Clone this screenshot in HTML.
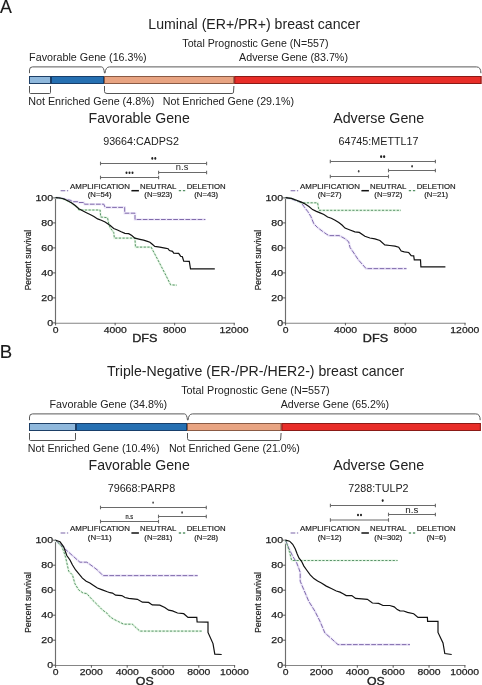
<!DOCTYPE html>
<html><head><meta charset="utf-8"><style>
html,body{margin:0;padding:0;background:#fff;}
body{width:482px;height:685px;overflow:hidden;}
svg{display:block;will-change:transform;font-family:"Liberation Sans",sans-serif;}
</style></head><body>
<svg width="482" height="685" viewBox="0 0 482 685">
<rect width="482" height="685" fill="#fff"/>
<text x="148.34" y="28.60" font-size="14.2" textLength="211.79" lengthAdjust="spacingAndGlyphs" fill="#222">Luminal (ER+/PR+) breast cancer</text>
<text x="182.36" y="47.30" font-size="10.6" textLength="146.09" lengthAdjust="spacingAndGlyphs" fill="#222">Total Prognostic Gene (N=557)</text>
<text x="29.12" y="60.60" font-size="10.6" textLength="117.55" lengthAdjust="spacingAndGlyphs" fill="#222">Favorable Gene (16.3%)</text>
<text x="239.08" y="60.90" font-size="10.6" textLength="108.88" lengthAdjust="spacingAndGlyphs" fill="#222">Adverse Gene (83.7%)</text>
<rect x="29" y="76" width="22" height="8" fill="#8fb8dc" stroke="none" stroke-width="0"/>
<rect x="51" y="76" width="53" height="8" fill="#2670b2" stroke="none" stroke-width="0"/>
<rect x="104" y="76" width="130.3" height="8" fill="#e8a482" stroke="none" stroke-width="0"/>
<rect x="234.3" y="76" width="247.2" height="8" fill="#e82d28" stroke="none" stroke-width="0"/>
<rect x="29.5" y="76.5" width="21" height="7" fill="none" stroke="#1d3f66" stroke-width="1"/>
<rect x="51.5" y="76.5" width="52" height="7" fill="none" stroke="#173e6a" stroke-width="1"/>
<rect x="104.5" y="76.5" width="129.3" height="7" fill="none" stroke="#8a5a44" stroke-width="1"/>
<rect x="234.8" y="76.5" width="246.2" height="7" fill="none" stroke="#8a1a16" stroke-width="1"/>
<path d="M29.5,73.2 L29.5,69.9 Q29.5,66.9 32.5,66.9 L101.5,66.9 Q103.8,66.9 104.5,73.2" stroke="#5a5a5a" stroke-width="1" fill="none"/>
<path d="M105.0,73.2 Q105.6,66.9 109.5,66.9 L476.5,66.9 Q480.9,66.9 480.9,73.2" stroke="#5a5a5a" stroke-width="1" fill="none"/>
<path d="M29.5,86 L29.5,92.5 Q29.5,93.5 30.5,93.5 L49.5,93.5 Q50.5,93.5 50.5,92.5 L50.5,86" stroke="#555" stroke-width="1" fill="none"/>
<path d="M104.5,86 L104.5,91.5 Q104.5,93.5 107,93.5 L232.3,93.5 Q233.3,93.5 233.5,92.0 L233.9,86" stroke="#555" stroke-width="1" fill="none"/>
<text x="28.22" y="104.80" font-size="10.6" textLength="126.05" lengthAdjust="spacingAndGlyphs" fill="#222">Not Enriched Gene (4.8%)</text>
<text x="162.72" y="104.80" font-size="10.6" textLength="131.34" lengthAdjust="spacingAndGlyphs" fill="#222">Not Enriched Gene (29.1%)</text>
<text x="106.98" y="375.60" font-size="14.2" textLength="297.15" lengthAdjust="spacingAndGlyphs" fill="#222">Triple-Negative (ER-/PR-/HER2-) breast cancer</text>
<text x="181.16" y="394.30" font-size="10.6" textLength="148.50" lengthAdjust="spacingAndGlyphs" fill="#222">Total Prognostic Gene (N=557)</text>
<text x="49.52" y="407.60" font-size="10.6" textLength="117.55" lengthAdjust="spacingAndGlyphs" fill="#222">Favorable Gene (34.8%)</text>
<text x="280.68" y="407.90" font-size="10.6" textLength="108.28" lengthAdjust="spacingAndGlyphs" fill="#222">Adverse Gene (65.2%)</text>
<rect x="29" y="423" width="47" height="8" fill="#8fb8dc" stroke="none" stroke-width="0"/>
<rect x="76" y="423" width="111" height="8" fill="#2670b2" stroke="none" stroke-width="0"/>
<rect x="187" y="423" width="94.5" height="8" fill="#e8a482" stroke="none" stroke-width="0"/>
<rect x="281.5" y="423" width="199.3" height="8" fill="#e82d28" stroke="none" stroke-width="0"/>
<rect x="29.5" y="423.5" width="46" height="7" fill="none" stroke="#1d3f66" stroke-width="1"/>
<rect x="76.5" y="423.5" width="110" height="7" fill="none" stroke="#173e6a" stroke-width="1"/>
<rect x="187.5" y="423.5" width="93.5" height="7" fill="none" stroke="#8a5a44" stroke-width="1"/>
<rect x="282.0" y="423.5" width="198.3" height="7" fill="none" stroke="#8a1a16" stroke-width="1"/>
<path d="M29.5,420.2 L29.5,416.9 Q29.5,413.9 32.5,413.9 L184.5,413.9 Q186.8,413.9 187.5,420.2" stroke="#5a5a5a" stroke-width="1" fill="none"/>
<path d="M188.0,420.2 Q188.6,413.9 192.5,413.9 L475.8,413.9 Q480.2,413.9 480.2,420.2" stroke="#5a5a5a" stroke-width="1" fill="none"/>
<path d="M29.5,433 L29.5,439.5 Q29.5,440.5 30.5,440.5 L74.5,440.5 Q75.5,440.5 75.5,439.5 L75.5,433" stroke="#555" stroke-width="1" fill="none"/>
<path d="M187.5,433 L187.5,438.5 Q187.5,440.5 190,440.5 L279.5,440.5 Q280.5,440.5 280.7,439.0 L281.1,433" stroke="#555" stroke-width="1" fill="none"/>
<text x="27.82" y="451.80" font-size="10.6" textLength="131.64" lengthAdjust="spacingAndGlyphs" fill="#222">Not Enriched Gene (10.4%)</text>
<text x="168.93" y="451.80" font-size="10.6" textLength="130.83" lengthAdjust="spacingAndGlyphs" fill="#222">Not Enriched Gene (21.0%)</text>
<text x="-0.03" y="12.60" font-size="18" textLength="11.87" lengthAdjust="spacingAndGlyphs" fill="#1a1a1a" stroke="#1a1a1a" stroke-width="0.12">A</text>
<text x="-0.23" y="357.60" font-size="17.6" textLength="12.41" lengthAdjust="spacingAndGlyphs" fill="#1a1a1a" stroke="#1a1a1a" stroke-width="0.12">B</text>
<text x="88.54" y="123.10" font-size="14.2" textLength="101.29" lengthAdjust="spacingAndGlyphs" fill="#222">Favorable Gene</text>
<text x="103.20" y="144.90" font-size="10.6" textLength="75.74" lengthAdjust="spacingAndGlyphs" fill="#222">93664:CADPS2</text>
<line x1="55.5" y1="197.39999999999998" x2="55.5" y2="323.7" stroke="#6e6e6e" stroke-width="1.15"/>
<line x1="55.1" y1="323.2" x2="234.7" y2="323.2" stroke="#858585" stroke-width="1.1"/>
<line x1="53.1" y1="322.9" x2="55.6" y2="322.9" stroke="#555" stroke-width="1"/>
<text x="47.22" y="325.70" font-size="9.9" textLength="5.89" lengthAdjust="spacingAndGlyphs" fill="#222" stroke="#222" stroke-width="0.25">0</text>
<line x1="53.1" y1="297.9" x2="55.6" y2="297.9" stroke="#555" stroke-width="1"/>
<text x="41.33" y="300.70" font-size="9.9" textLength="11.78" lengthAdjust="spacingAndGlyphs" fill="#222" stroke="#222" stroke-width="0.25">20</text>
<line x1="53.1" y1="272.9" x2="55.6" y2="272.9" stroke="#555" stroke-width="1"/>
<text x="41.33" y="275.70" font-size="9.9" textLength="11.78" lengthAdjust="spacingAndGlyphs" fill="#222" stroke="#222" stroke-width="0.25">40</text>
<line x1="53.1" y1="247.89999999999998" x2="55.6" y2="247.89999999999998" stroke="#555" stroke-width="1"/>
<text x="41.33" y="250.70" font-size="9.9" textLength="11.78" lengthAdjust="spacingAndGlyphs" fill="#222" stroke="#222" stroke-width="0.25">60</text>
<line x1="53.1" y1="222.89999999999998" x2="55.6" y2="222.89999999999998" stroke="#555" stroke-width="1"/>
<text x="41.33" y="225.70" font-size="9.9" textLength="11.78" lengthAdjust="spacingAndGlyphs" fill="#222" stroke="#222" stroke-width="0.25">80</text>
<line x1="53.1" y1="197.89999999999998" x2="55.6" y2="197.89999999999998" stroke="#555" stroke-width="1"/>
<text x="35.44" y="200.70" font-size="9.9" textLength="17.67" lengthAdjust="spacingAndGlyphs" fill="#222" stroke="#222" stroke-width="0.25">100</text>
<line x1="55.6" y1="322.9" x2="55.6" y2="325.4" stroke="#555" stroke-width="1"/>
<text x="52.71" y="332.80" font-size="9.9" textLength="5.78" lengthAdjust="spacingAndGlyphs" fill="#222" stroke="#222" stroke-width="0.25">0</text>
<line x1="115.13333333333333" y1="322.9" x2="115.13333333333333" y2="325.4" stroke="#555" stroke-width="1"/>
<text x="103.65" y="332.80" font-size="9.9" textLength="23.12" lengthAdjust="spacingAndGlyphs" fill="#222" stroke="#222" stroke-width="0.25">4000</text>
<line x1="174.66666666666666" y1="322.9" x2="174.66666666666666" y2="325.4" stroke="#555" stroke-width="1"/>
<text x="163.08" y="332.80" font-size="9.9" textLength="23.12" lengthAdjust="spacingAndGlyphs" fill="#222" stroke="#222" stroke-width="0.25">8000</text>
<line x1="234.2" y1="322.9" x2="234.2" y2="325.4" stroke="#555" stroke-width="1"/>
<text x="219.55" y="332.80" font-size="9.9" textLength="28.91" lengthAdjust="spacingAndGlyphs" fill="#222" stroke="#222" stroke-width="0.25">12000</text>
<text x="132.17" y="342.20" font-size="11" textLength="25.21" lengthAdjust="spacingAndGlyphs" fill="#222" stroke="#222" stroke-width="0.35">DFS</text>
<text transform="translate(31.200000000000003,260.09999999999997) rotate(-90)" text-anchor="middle" font-size="9.9" fill="#222" stroke="#222" stroke-width="0.2" textLength="60.5" lengthAdjust="spacingAndGlyphs">Percent survival</text>
<path d="M55.6,197.6 L62.0,198.2 L66.5,199.6 L70.2,200.2 L72.7,201.7 L78.3,201.7 L78.9,202.5 L83.9,202.5 L84.5,204.2 L103.8,204.2 L105.1,207.4 L124.7,207.4 L124.7,213.2 L135.0,213.2 L135.0,219.5 L205.4,219.5" stroke="#efeafa" stroke-width="2.6" fill="none"/>
<path d="M55.6,197.6 L60.2,198.2 L64.0,199.2 L67.7,201.0 L71.4,203.0 L75.2,205.8 L77.7,207.7 L78.9,210.0 L100.1,210.0 L100.7,217.0 L107.5,217.7 L108.8,223.9 L110.0,227.5 L113.7,232.5 L114.4,238.1 L134.9,238.1 L135.5,247.1 L151.1,247.1 L157.9,259.9 L165.0,273.6 L170.6,284.8 L176.8,285.2" stroke="#e4f6e4" stroke-width="2.2" fill="none"/>
<path d="M55.6,197.6 L62.0,198.2 L66.5,199.6 L70.2,200.2 L72.7,201.7 L78.3,201.7 L78.9,202.5 L83.9,202.5 L84.5,204.2 L103.8,204.2 L105.1,207.4 L124.7,207.4 L124.7,213.2 L135.0,213.2 L135.0,219.5 L205.4,219.5" stroke="#7a64a8" stroke-width="0.95" fill="none" stroke-dasharray="4.7,1.4"/>
<path d="M55.6,197.6 L60.2,198.2 L64.0,199.2 L67.7,201.0 L71.4,203.0 L75.2,205.8 L77.7,207.7 L78.9,210.0 L100.1,210.0 L100.7,217.0 L107.5,217.7 L108.8,223.9 L110.0,227.5 L113.7,232.5 L114.4,238.1 L134.9,238.1 L135.5,247.1 L151.1,247.1 L157.9,259.9 L165.0,273.6 L170.6,284.8 L176.8,285.2" stroke="#5a946a" stroke-width="1.0" fill="none" stroke-dasharray="2.2,1.5"/>
<path d="M55.6,197.6 L60.2,198.0 L64.0,199.0 L67.7,200.8 L71.4,202.7 L75.2,205.5 L78.9,208.7 L82.6,210.8 L86.4,212.7 L90.1,214.5 L93.9,216.4 L97.6,218.9 L101.3,220.2 L105.1,222.0 L108.8,224.5 L110.0,225.2 L113.7,228.5 L117.5,230.0 L121.2,231.8 L124.9,233.4 L128.7,233.7 L131.8,235.6 L134.9,238.1 L139.9,239.3 L143.6,240.2 L147.4,241.4 L149.9,242.2 L152.3,244.3 L154.8,246.4 L159.8,247.1 L165.0,248.1 L168.1,248.7 L169.4,250.6 L172.5,251.4 L173.7,253.1 L178.7,253.4 L180.6,256.2 L182.4,256.8 L183.7,261.2 L189.3,261.4 L190.5,268.9 L214.8,268.9" stroke="#111" stroke-width="1.2" fill="none"/>
<text x="70.11" y="188.60" font-size="7.8" textLength="59.81" lengthAdjust="spacingAndGlyphs" fill="#222" stroke="#222" stroke-width="0.18">AMPLIFICATION</text>
<text x="87.79" y="197.00" font-size="7.8" textLength="23.82" lengthAdjust="spacingAndGlyphs" fill="#222" stroke="#222" stroke-width="0.18">(N=54)</text>
<text x="140.01" y="188.60" font-size="7.8" textLength="36.41" lengthAdjust="spacingAndGlyphs" fill="#222" stroke="#222" stroke-width="0.18">NEUTRAL</text>
<text x="144.34" y="197.00" font-size="7.8" textLength="28.11" lengthAdjust="spacingAndGlyphs" fill="#222" stroke="#222" stroke-width="0.18">(N=923)</text>
<text x="186.69" y="188.60" font-size="7.8" textLength="39.01" lengthAdjust="spacingAndGlyphs" fill="#222" stroke="#222" stroke-width="0.18">DELETION</text>
<text x="194.29" y="197.00" font-size="7.8" textLength="23.82" lengthAdjust="spacingAndGlyphs" fill="#222" stroke="#222" stroke-width="0.18">(N=43)</text>
<line x1="60.6" y1="190.7" x2="68.2" y2="190.7" stroke="#7a64a8" stroke-width="1.1" stroke-dasharray="4.7,1.6,1.3,9"/>
<line x1="131.4" y1="190.7" x2="138.9" y2="190.7" stroke="#111" stroke-width="1.5"/>
<line x1="178.8" y1="190.7" x2="185.2" y2="190.7" stroke="#5a946a" stroke-width="1.3" stroke-dasharray="2.3,1.8"/>
<line x1="100.5" y1="163.5" x2="206.6" y2="163.5" stroke="#6a6a6a" stroke-width="1.0"/>
<line x1="100.5" y1="161.7" x2="100.5" y2="165.3" stroke="#6a6a6a" stroke-width="1.1"/>
<line x1="206.6" y1="161.7" x2="206.6" y2="165.3" stroke="#6a6a6a" stroke-width="1.1"/>
<line x1="158.6" y1="172.5" x2="206.6" y2="172.5" stroke="#6a6a6a" stroke-width="1.0"/>
<line x1="158.6" y1="170.7" x2="158.6" y2="174.3" stroke="#6a6a6a" stroke-width="1.1"/>
<line x1="206.6" y1="170.7" x2="206.6" y2="174.3" stroke="#6a6a6a" stroke-width="1.1"/>
<line x1="100.5" y1="177.5" x2="158.6" y2="177.5" stroke="#6a6a6a" stroke-width="1.0"/>
<line x1="100.5" y1="175.7" x2="100.5" y2="179.3" stroke="#6a6a6a" stroke-width="1.1"/>
<line x1="158.6" y1="175.7" x2="158.6" y2="179.3" stroke="#6a6a6a" stroke-width="1.1"/>
<ellipse cx="152.30" cy="158.40" rx="1.0" ry="1.3" fill="#222"/>
<ellipse cx="155.30" cy="158.40" rx="1.0" ry="1.3" fill="#222"/>
<text x="175.88" y="170.40" font-size="8.2" textLength="12.46" lengthAdjust="spacingAndGlyphs" fill="#222">n.s</text>
<ellipse cx="126.50" cy="172.80" rx="1.0" ry="1.3" fill="#222"/>
<ellipse cx="129.50" cy="172.80" rx="1.0" ry="1.3" fill="#222"/>
<ellipse cx="132.50" cy="172.80" rx="1.0" ry="1.3" fill="#222"/>
<text x="333.17" y="123.10" font-size="14.2" textLength="91.06" lengthAdjust="spacingAndGlyphs" fill="#222">Adverse Gene</text>
<text x="338.45" y="144.90" font-size="10.6" textLength="80.09" lengthAdjust="spacingAndGlyphs" fill="#222">64745:METTL17</text>
<line x1="285.5" y1="197.39999999999998" x2="285.5" y2="323.7" stroke="#6e6e6e" stroke-width="1.15"/>
<line x1="285.1" y1="323.2" x2="465.5" y2="323.2" stroke="#858585" stroke-width="1.1"/>
<line x1="283.1" y1="322.9" x2="285.6" y2="322.9" stroke="#555" stroke-width="1"/>
<text x="277.22" y="325.70" font-size="9.9" textLength="5.89" lengthAdjust="spacingAndGlyphs" fill="#222" stroke="#222" stroke-width="0.25">0</text>
<line x1="283.1" y1="297.9" x2="285.6" y2="297.9" stroke="#555" stroke-width="1"/>
<text x="271.33" y="300.70" font-size="9.9" textLength="11.78" lengthAdjust="spacingAndGlyphs" fill="#222" stroke="#222" stroke-width="0.25">20</text>
<line x1="283.1" y1="272.9" x2="285.6" y2="272.9" stroke="#555" stroke-width="1"/>
<text x="271.33" y="275.70" font-size="9.9" textLength="11.78" lengthAdjust="spacingAndGlyphs" fill="#222" stroke="#222" stroke-width="0.25">40</text>
<line x1="283.1" y1="247.89999999999998" x2="285.6" y2="247.89999999999998" stroke="#555" stroke-width="1"/>
<text x="271.33" y="250.70" font-size="9.9" textLength="11.78" lengthAdjust="spacingAndGlyphs" fill="#222" stroke="#222" stroke-width="0.25">60</text>
<line x1="283.1" y1="222.89999999999998" x2="285.6" y2="222.89999999999998" stroke="#555" stroke-width="1"/>
<text x="271.33" y="225.70" font-size="9.9" textLength="11.78" lengthAdjust="spacingAndGlyphs" fill="#222" stroke="#222" stroke-width="0.25">80</text>
<line x1="283.1" y1="197.89999999999998" x2="285.6" y2="197.89999999999998" stroke="#555" stroke-width="1"/>
<text x="265.44" y="200.70" font-size="9.9" textLength="17.67" lengthAdjust="spacingAndGlyphs" fill="#222" stroke="#222" stroke-width="0.25">100</text>
<line x1="285.6" y1="322.9" x2="285.6" y2="325.4" stroke="#555" stroke-width="1"/>
<text x="282.71" y="332.80" font-size="9.9" textLength="5.78" lengthAdjust="spacingAndGlyphs" fill="#222" stroke="#222" stroke-width="0.25">0</text>
<line x1="345.40000000000003" y1="322.9" x2="345.40000000000003" y2="325.4" stroke="#555" stroke-width="1"/>
<text x="333.92" y="332.80" font-size="9.9" textLength="23.12" lengthAdjust="spacingAndGlyphs" fill="#222" stroke="#222" stroke-width="0.25">4000</text>
<line x1="405.20000000000005" y1="322.9" x2="405.20000000000005" y2="325.4" stroke="#555" stroke-width="1"/>
<text x="393.61" y="332.80" font-size="9.9" textLength="23.12" lengthAdjust="spacingAndGlyphs" fill="#222" stroke="#222" stroke-width="0.25">8000</text>
<line x1="465.0" y1="322.9" x2="465.0" y2="325.4" stroke="#555" stroke-width="1"/>
<text x="450.35" y="332.80" font-size="9.9" textLength="28.91" lengthAdjust="spacingAndGlyphs" fill="#222" stroke="#222" stroke-width="0.25">12000</text>
<text x="362.87" y="342.20" font-size="11" textLength="25.21" lengthAdjust="spacingAndGlyphs" fill="#222" stroke="#222" stroke-width="0.35">DFS</text>
<text transform="translate(261.20000000000005,260.09999999999997) rotate(-90)" text-anchor="middle" font-size="9.9" fill="#222" stroke="#222" stroke-width="0.2" textLength="60.5" lengthAdjust="spacingAndGlyphs">Percent survival</text>
<path d="M285.6,197.6 L291.5,199.0 L296.5,200.8 L301.4,202.7 L303.9,206.5 L307.7,211.4 L310.8,216.4 L313.9,223.9 L317.6,227.6 L322.6,231.4 L326.3,234.0 L329.0,235.6 L339.2,235.6 L345.0,238.7 L348.7,241.8 L350.0,247.4 L354.9,254.6 L358.1,259.5 L366.1,268.6 L406.5,268.6" stroke="#efeafa" stroke-width="2.6" fill="none"/>
<path d="M285.6,197.6 L291.5,198.6 L296.5,200.4 L301.4,202.8 L317.6,202.8 L318.9,210.3 L401.0,210.3" stroke="#e4f6e4" stroke-width="2.2" fill="none"/>
<path d="M285.6,197.6 L291.5,199.0 L296.5,200.8 L301.4,202.7 L303.9,206.5 L307.7,211.4 L310.8,216.4 L313.9,223.9 L317.6,227.6 L322.6,231.4 L326.3,234.0 L329.0,235.6 L339.2,235.6 L345.0,238.7 L348.7,241.8 L350.0,247.4 L354.9,254.6 L358.1,259.5 L366.1,268.6 L406.5,268.6" stroke="#7a64a8" stroke-width="0.95" fill="none" stroke-dasharray="4.7,1.4"/>
<path d="M285.6,197.6 L291.5,198.6 L296.5,200.4 L301.4,202.8 L317.6,202.8 L318.9,210.3 L401.0,210.3" stroke="#5a946a" stroke-width="1.0" fill="none" stroke-dasharray="2.2,1.5"/>
<path d="M285.6,197.6 L291.5,198.4 L296.5,200.2 L301.4,202.1 L305.2,204.0 L308.9,206.5 L312.6,209.6 L316.4,211.4 L320.1,212.9 L323.9,214.5 L327.6,217.0 L331.3,218.3 L335.1,220.2 L338.8,222.6 L342.0,225.0 L345.0,228.1 L350.0,230.0 L354.9,231.8 L359.3,232.4 L364.9,236.2 L369.9,238.0 L374.9,238.9 L379.9,240.5 L384.8,244.9 L389.8,245.5 L395.0,246.2 L398.7,247.2 L401.2,251.0 L404.3,251.8 L408.7,252.5 L411.2,255.6 L413.7,255.9 L414.3,259.9 L420.5,259.9 L420.9,266.8 L445.4,266.8" stroke="#111" stroke-width="1.2" fill="none"/>
<text x="300.11" y="188.60" font-size="7.8" textLength="59.81" lengthAdjust="spacingAndGlyphs" fill="#222" stroke="#222" stroke-width="0.18">AMPLIFICATION</text>
<text x="317.79" y="197.00" font-size="7.8" textLength="23.82" lengthAdjust="spacingAndGlyphs" fill="#222" stroke="#222" stroke-width="0.18">(N=27)</text>
<text x="370.01" y="188.60" font-size="7.8" textLength="36.41" lengthAdjust="spacingAndGlyphs" fill="#222" stroke="#222" stroke-width="0.18">NEUTRAL</text>
<text x="374.34" y="197.00" font-size="7.8" textLength="28.11" lengthAdjust="spacingAndGlyphs" fill="#222" stroke="#222" stroke-width="0.18">(N=972)</text>
<text x="416.69" y="188.60" font-size="7.8" textLength="39.01" lengthAdjust="spacingAndGlyphs" fill="#222" stroke="#222" stroke-width="0.18">DELETION</text>
<text x="424.29" y="197.00" font-size="7.8" textLength="23.82" lengthAdjust="spacingAndGlyphs" fill="#222" stroke="#222" stroke-width="0.18">(N=21)</text>
<line x1="290.6" y1="190.7" x2="298.20000000000005" y2="190.7" stroke="#7a64a8" stroke-width="1.1" stroke-dasharray="4.7,1.6,1.3,9"/>
<line x1="361.40000000000003" y1="190.7" x2="368.90000000000003" y2="190.7" stroke="#111" stroke-width="1.5"/>
<line x1="408.8" y1="190.7" x2="415.20000000000005" y2="190.7" stroke="#5a946a" stroke-width="1.3" stroke-dasharray="2.3,1.8"/>
<line x1="330.3" y1="161.5" x2="435.4" y2="161.5" stroke="#6a6a6a" stroke-width="1.0"/>
<line x1="330.3" y1="159.7" x2="330.3" y2="163.3" stroke="#6a6a6a" stroke-width="1.1"/>
<line x1="435.4" y1="159.7" x2="435.4" y2="163.3" stroke="#6a6a6a" stroke-width="1.1"/>
<line x1="388.5" y1="170.5" x2="435.4" y2="170.5" stroke="#6a6a6a" stroke-width="1.0"/>
<line x1="388.5" y1="168.7" x2="388.5" y2="172.3" stroke="#6a6a6a" stroke-width="1.1"/>
<line x1="435.4" y1="168.7" x2="435.4" y2="172.3" stroke="#6a6a6a" stroke-width="1.1"/>
<line x1="330.3" y1="176.5" x2="388.5" y2="176.5" stroke="#6a6a6a" stroke-width="1.0"/>
<line x1="330.3" y1="174.7" x2="330.3" y2="178.3" stroke="#6a6a6a" stroke-width="1.1"/>
<line x1="388.5" y1="174.7" x2="388.5" y2="178.3" stroke="#6a6a6a" stroke-width="1.1"/>
<ellipse cx="381.15" cy="156.65" rx="1.1" ry="1.4" fill="#222"/>
<ellipse cx="384.15" cy="156.65" rx="1.1" ry="1.4" fill="#222"/>
<ellipse cx="412.10" cy="166.30" rx="0.85" ry="1.2" fill="#3a3a3a"/>
<ellipse cx="358.70" cy="171.30" rx="0.8" ry="1.2" fill="#444"/>
<text x="88.54" y="470.40" font-size="14.2" textLength="101.29" lengthAdjust="spacingAndGlyphs" fill="#222">Favorable Gene</text>
<text x="107.65" y="492.20" font-size="10.6" textLength="67.51" lengthAdjust="spacingAndGlyphs" fill="#222">79668:PARP8</text>
<line x1="55.5" y1="539.7" x2="55.5" y2="666.0" stroke="#6e6e6e" stroke-width="1.15"/>
<line x1="55.1" y1="665.5" x2="235.1" y2="665.5" stroke="#858585" stroke-width="1.1"/>
<line x1="53.1" y1="665.2" x2="55.6" y2="665.2" stroke="#555" stroke-width="1"/>
<text x="47.22" y="668.00" font-size="9.9" textLength="5.89" lengthAdjust="spacingAndGlyphs" fill="#222" stroke="#222" stroke-width="0.25">0</text>
<line x1="53.1" y1="640.2" x2="55.6" y2="640.2" stroke="#555" stroke-width="1"/>
<text x="41.33" y="643.00" font-size="9.9" textLength="11.78" lengthAdjust="spacingAndGlyphs" fill="#222" stroke="#222" stroke-width="0.25">20</text>
<line x1="53.1" y1="615.2" x2="55.6" y2="615.2" stroke="#555" stroke-width="1"/>
<text x="41.33" y="618.00" font-size="9.9" textLength="11.78" lengthAdjust="spacingAndGlyphs" fill="#222" stroke="#222" stroke-width="0.25">40</text>
<line x1="53.1" y1="590.2" x2="55.6" y2="590.2" stroke="#555" stroke-width="1"/>
<text x="41.33" y="593.00" font-size="9.9" textLength="11.78" lengthAdjust="spacingAndGlyphs" fill="#222" stroke="#222" stroke-width="0.25">60</text>
<line x1="53.1" y1="565.2" x2="55.6" y2="565.2" stroke="#555" stroke-width="1"/>
<text x="41.33" y="568.00" font-size="9.9" textLength="11.78" lengthAdjust="spacingAndGlyphs" fill="#222" stroke="#222" stroke-width="0.25">80</text>
<line x1="53.1" y1="540.2" x2="55.6" y2="540.2" stroke="#555" stroke-width="1"/>
<text x="35.44" y="543.00" font-size="9.9" textLength="17.67" lengthAdjust="spacingAndGlyphs" fill="#222" stroke="#222" stroke-width="0.25">100</text>
<line x1="55.6" y1="665.2" x2="55.6" y2="667.7" stroke="#555" stroke-width="1"/>
<text x="52.71" y="675.10" font-size="9.9" textLength="5.78" lengthAdjust="spacingAndGlyphs" fill="#222" stroke="#222" stroke-width="0.25">0</text>
<line x1="91.4" y1="665.2" x2="91.4" y2="667.7" stroke="#555" stroke-width="1"/>
<text x="79.78" y="675.10" font-size="9.9" textLength="23.12" lengthAdjust="spacingAndGlyphs" fill="#222" stroke="#222" stroke-width="0.25">2000</text>
<line x1="127.19999999999999" y1="665.2" x2="127.19999999999999" y2="667.7" stroke="#555" stroke-width="1"/>
<text x="115.72" y="675.10" font-size="9.9" textLength="23.12" lengthAdjust="spacingAndGlyphs" fill="#222" stroke="#222" stroke-width="0.25">4000</text>
<line x1="163.0" y1="665.2" x2="163.0" y2="667.7" stroke="#555" stroke-width="1"/>
<text x="151.38" y="675.10" font-size="9.9" textLength="23.12" lengthAdjust="spacingAndGlyphs" fill="#222" stroke="#222" stroke-width="0.25">6000</text>
<line x1="198.79999999999998" y1="665.2" x2="198.79999999999998" y2="667.7" stroke="#555" stroke-width="1"/>
<text x="187.21" y="675.10" font-size="9.9" textLength="23.12" lengthAdjust="spacingAndGlyphs" fill="#222" stroke="#222" stroke-width="0.25">8000</text>
<line x1="234.6" y1="665.2" x2="234.6" y2="667.7" stroke="#555" stroke-width="1"/>
<text x="219.95" y="675.10" font-size="9.9" textLength="28.91" lengthAdjust="spacingAndGlyphs" fill="#222" stroke="#222" stroke-width="0.25">10000</text>
<text x="135.81" y="684.80" font-size="11" textLength="17.85" lengthAdjust="spacingAndGlyphs" fill="#222" stroke="#222" stroke-width="0.35">OS</text>
<text transform="translate(31.200000000000003,602.4000000000001) rotate(-90)" text-anchor="middle" font-size="9.9" fill="#222" stroke="#222" stroke-width="0.2" textLength="60.5" lengthAdjust="spacingAndGlyphs">Percent survival</text>
<path d="M55.6,540.2 L62.5,546.8 L67.5,551.2 L72.4,555.5 L77.4,560.0 L79.9,562.2 L86.8,562.2 L92.4,566.2 L97.4,570.0 L103.0,575.6 L197.7,575.6" stroke="#efeafa" stroke-width="2.6" fill="none"/>
<path d="M55.6,540.2 L61.2,545.6 L63.7,551.2 L65.6,557.4 L66.2,560.0 L68.7,571.2 L72.5,575.0 L74.9,583.7 L78.7,589.9 L83.0,593.0 L86.8,593.6 L92.4,599.9 L97.4,604.8 L102.3,609.8 L107.3,613.5 L110.0,616.8 L113.7,619.2 L118.7,621.7 L123.7,624.2 L132.4,624.2 L134.9,626.7 L139.9,631.1 L201.7,631.1" stroke="#e4f6e4" stroke-width="2.2" fill="none"/>
<path d="M55.6,540.2 L62.5,546.8 L67.5,551.2 L72.4,555.5 L77.4,560.0 L79.9,562.2 L86.8,562.2 L92.4,566.2 L97.4,570.0 L103.0,575.6 L197.7,575.6" stroke="#7a64a8" stroke-width="0.95" fill="none" stroke-dasharray="4.7,1.4"/>
<path d="M55.6,540.2 L61.2,545.6 L63.7,551.2 L65.6,557.4 L66.2,560.0 L68.7,571.2 L72.5,575.0 L74.9,583.7 L78.7,589.9 L83.0,593.0 L86.8,593.6 L92.4,599.9 L97.4,604.8 L102.3,609.8 L107.3,613.5 L110.0,616.8 L113.7,619.2 L118.7,621.7 L123.7,624.2 L132.4,624.2 L134.9,626.7 L139.9,631.1 L201.7,631.1" stroke="#5a946a" stroke-width="1.0" fill="none" stroke-dasharray="2.2,1.5"/>
<path d="M55.6,540.2 L60.0,541.8 L63.7,546.8 L66.8,555.5 L70.0,560.0 L72.5,565.0 L75.6,570.0 L78.7,573.7 L82.4,578.1 L86.2,581.2 L89.9,583.0 L93.6,585.5 L97.4,588.0 L102.3,589.9 L107.3,591.8 L110.0,592.7 L112.5,593.1 L115.6,595.2 L121.8,595.6 L125.0,597.5 L128.7,598.3 L137.4,599.3 L142.4,602.2 L148.6,602.4 L152.3,604.9 L159.8,605.2 L164.8,607.4 L168.7,610.2 L172.5,610.9 L177.5,613.0 L183.7,613.7 L188.0,617.4 L196.8,617.4 L197.1,621.8 L208.0,622.1 L208.0,632.4 L213.0,643.6 L214.8,654.2 L221.7,654.5" stroke="#111" stroke-width="1.2" fill="none"/>
<text x="70.11" y="531.40" font-size="7.8" textLength="59.81" lengthAdjust="spacingAndGlyphs" fill="#222" stroke="#222" stroke-width="0.18">AMPLIFICATION</text>
<text x="87.79" y="539.80" font-size="7.8" textLength="23.82" lengthAdjust="spacingAndGlyphs" fill="#222" stroke="#222" stroke-width="0.18">(N=11)</text>
<text x="140.01" y="531.40" font-size="7.8" textLength="36.41" lengthAdjust="spacingAndGlyphs" fill="#222" stroke="#222" stroke-width="0.18">NEUTRAL</text>
<text x="144.34" y="539.80" font-size="7.8" textLength="28.11" lengthAdjust="spacingAndGlyphs" fill="#222" stroke="#222" stroke-width="0.18">(N=281)</text>
<text x="186.69" y="531.40" font-size="7.8" textLength="39.01" lengthAdjust="spacingAndGlyphs" fill="#222" stroke="#222" stroke-width="0.18">DELETION</text>
<text x="194.29" y="539.80" font-size="7.8" textLength="23.82" lengthAdjust="spacingAndGlyphs" fill="#222" stroke="#222" stroke-width="0.18">(N=28)</text>
<line x1="60.6" y1="533.0" x2="68.2" y2="533.0" stroke="#7a64a8" stroke-width="1.1" stroke-dasharray="4.7,1.6,1.3,9"/>
<line x1="131.4" y1="533.0" x2="138.9" y2="533.0" stroke="#111" stroke-width="1.5"/>
<line x1="178.8" y1="533.0" x2="185.2" y2="533.0" stroke="#5a946a" stroke-width="1.3" stroke-dasharray="2.3,1.8"/>
<line x1="100.5" y1="507.5" x2="206.3" y2="507.5" stroke="#6a6a6a" stroke-width="1.0"/>
<line x1="100.5" y1="505.7" x2="100.5" y2="509.3" stroke="#6a6a6a" stroke-width="1.1"/>
<line x1="206.3" y1="505.7" x2="206.3" y2="509.3" stroke="#6a6a6a" stroke-width="1.1"/>
<line x1="158.5" y1="516.5" x2="206.3" y2="516.5" stroke="#6a6a6a" stroke-width="1.0"/>
<line x1="158.5" y1="514.7" x2="158.5" y2="518.3" stroke="#6a6a6a" stroke-width="1.1"/>
<line x1="206.3" y1="514.7" x2="206.3" y2="518.3" stroke="#6a6a6a" stroke-width="1.1"/>
<line x1="100.5" y1="521.5" x2="158.5" y2="521.5" stroke="#6a6a6a" stroke-width="1.0"/>
<line x1="100.5" y1="519.7" x2="100.5" y2="523.3" stroke="#6a6a6a" stroke-width="1.1"/>
<line x1="158.5" y1="519.7" x2="158.5" y2="523.3" stroke="#6a6a6a" stroke-width="1.1"/>
<ellipse cx="153.10" cy="502.60" rx="0.8" ry="1.2" fill="#444"/>
<ellipse cx="182.10" cy="512.50" rx="0.8" ry="1.2" fill="#444"/>
<text x="125.62" y="518.80" font-size="7.6" textLength="7.58" lengthAdjust="spacingAndGlyphs" fill="#222" stroke="#222" stroke-width="0.2">n.s</text>
<text x="333.17" y="469.90" font-size="14.2" textLength="91.06" lengthAdjust="spacingAndGlyphs" fill="#222">Adverse Gene</text>
<text x="348.25" y="491.70" font-size="10.6" textLength="60.29" lengthAdjust="spacingAndGlyphs" fill="#222">7288:TULP2</text>
<line x1="285.5" y1="539.7" x2="285.5" y2="666.0" stroke="#6e6e6e" stroke-width="1.15"/>
<line x1="285.1" y1="665.5" x2="465.40000000000003" y2="665.5" stroke="#858585" stroke-width="1.1"/>
<line x1="283.1" y1="665.2" x2="285.6" y2="665.2" stroke="#555" stroke-width="1"/>
<text x="277.22" y="668.00" font-size="9.9" textLength="5.89" lengthAdjust="spacingAndGlyphs" fill="#222" stroke="#222" stroke-width="0.25">0</text>
<line x1="283.1" y1="640.2" x2="285.6" y2="640.2" stroke="#555" stroke-width="1"/>
<text x="271.33" y="643.00" font-size="9.9" textLength="11.78" lengthAdjust="spacingAndGlyphs" fill="#222" stroke="#222" stroke-width="0.25">20</text>
<line x1="283.1" y1="615.2" x2="285.6" y2="615.2" stroke="#555" stroke-width="1"/>
<text x="271.33" y="618.00" font-size="9.9" textLength="11.78" lengthAdjust="spacingAndGlyphs" fill="#222" stroke="#222" stroke-width="0.25">40</text>
<line x1="283.1" y1="590.2" x2="285.6" y2="590.2" stroke="#555" stroke-width="1"/>
<text x="271.33" y="593.00" font-size="9.9" textLength="11.78" lengthAdjust="spacingAndGlyphs" fill="#222" stroke="#222" stroke-width="0.25">60</text>
<line x1="283.1" y1="565.2" x2="285.6" y2="565.2" stroke="#555" stroke-width="1"/>
<text x="271.33" y="568.00" font-size="9.9" textLength="11.78" lengthAdjust="spacingAndGlyphs" fill="#222" stroke="#222" stroke-width="0.25">80</text>
<line x1="283.1" y1="540.2" x2="285.6" y2="540.2" stroke="#555" stroke-width="1"/>
<text x="265.44" y="543.00" font-size="9.9" textLength="17.67" lengthAdjust="spacingAndGlyphs" fill="#222" stroke="#222" stroke-width="0.25">100</text>
<line x1="285.6" y1="665.2" x2="285.6" y2="667.7" stroke="#555" stroke-width="1"/>
<text x="282.71" y="675.10" font-size="9.9" textLength="5.78" lengthAdjust="spacingAndGlyphs" fill="#222" stroke="#222" stroke-width="0.25">0</text>
<line x1="321.46000000000004" y1="665.2" x2="321.46000000000004" y2="667.7" stroke="#555" stroke-width="1"/>
<text x="309.84" y="675.10" font-size="9.9" textLength="23.12" lengthAdjust="spacingAndGlyphs" fill="#222" stroke="#222" stroke-width="0.25">2000</text>
<line x1="357.32000000000005" y1="665.2" x2="357.32000000000005" y2="667.7" stroke="#555" stroke-width="1"/>
<text x="345.84" y="675.10" font-size="9.9" textLength="23.12" lengthAdjust="spacingAndGlyphs" fill="#222" stroke="#222" stroke-width="0.25">4000</text>
<line x1="393.18000000000006" y1="665.2" x2="393.18000000000006" y2="667.7" stroke="#555" stroke-width="1"/>
<text x="381.56" y="675.10" font-size="9.9" textLength="23.12" lengthAdjust="spacingAndGlyphs" fill="#222" stroke="#222" stroke-width="0.25">6000</text>
<line x1="429.04" y1="665.2" x2="429.04" y2="667.7" stroke="#555" stroke-width="1"/>
<text x="417.45" y="675.10" font-size="9.9" textLength="23.12" lengthAdjust="spacingAndGlyphs" fill="#222" stroke="#222" stroke-width="0.25">8000</text>
<line x1="464.90000000000003" y1="665.2" x2="464.90000000000003" y2="667.7" stroke="#555" stroke-width="1"/>
<text x="450.25" y="675.10" font-size="9.9" textLength="28.91" lengthAdjust="spacingAndGlyphs" fill="#222" stroke="#222" stroke-width="0.25">10000</text>
<text x="366.92" y="684.80" font-size="11" textLength="17.75" lengthAdjust="spacingAndGlyphs" fill="#222" stroke="#222" stroke-width="0.35">OS</text>
<text transform="translate(261.20000000000005,602.4000000000001) rotate(-90)" text-anchor="middle" font-size="9.9" fill="#222" stroke="#222" stroke-width="0.2" textLength="60.5" lengthAdjust="spacingAndGlyphs">Percent survival</text>
<path d="M285.6,540.2 L289.0,548.7 L292.7,556.2 L296.5,562.4 L298.9,568.6 L300.2,572.4 L300.2,581.1 L301.8,585.0 L308.7,601.2 L314.9,611.2 L319.9,621.1 L324.9,633.0 L329.9,637.3 L338.0,644.6 L410.0,644.6" stroke="#efeafa" stroke-width="2.6" fill="none"/>
<path d="M285.6,540.2 L287.7,546.2 L289.6,552.4 L291.5,559.9 L291.8,560.5 L397.6,560.5" stroke="#e4f6e4" stroke-width="2.2" fill="none"/>
<path d="M285.6,540.2 L289.0,548.7 L292.7,556.2 L296.5,562.4 L298.9,568.6 L300.2,572.4 L300.2,581.1 L301.8,585.0 L308.7,601.2 L314.9,611.2 L319.9,621.1 L324.9,633.0 L329.9,637.3 L338.0,644.6 L410.0,644.6" stroke="#7a64a8" stroke-width="0.95" fill="none" stroke-dasharray="4.7,1.4"/>
<path d="M285.6,540.2 L287.7,546.2 L289.6,552.4 L291.5,559.9 L291.8,560.5 L397.6,560.5" stroke="#5a946a" stroke-width="1.0" fill="none" stroke-dasharray="2.2,1.5"/>
<path d="M285.6,540.2 L289.6,541.2 L292.7,544.3 L295.2,548.7 L297.1,553.7 L298.9,558.0 L301.4,561.1 L303.9,566.1 L307.0,570.5 L310.2,574.9 L313.9,578.6 L317.6,581.1 L321.4,583.0 L326.3,586.1 L331.3,588.5 L336.3,591.0 L340.0,592.1 L343.1,593.7 L346.2,595.6 L351.8,595.6 L355.6,598.4 L361.8,598.9 L367.4,599.3 L372.4,603.0 L378.6,603.4 L383.0,605.5 L389.8,605.5 L394.2,606.8 L397.3,609.6 L400.0,610.8 L403.7,611.0 L407.5,612.4 L413.7,613.7 L418.0,617.4 L427.4,617.4 L427.6,621.4 L438.0,621.4 L438.0,632.4 L443.0,643.0 L444.8,653.5 L451.7,654.5" stroke="#111" stroke-width="1.2" fill="none"/>
<text x="300.11" y="531.20" font-size="7.8" textLength="59.81" lengthAdjust="spacingAndGlyphs" fill="#222" stroke="#222" stroke-width="0.18">AMPLIFICATION</text>
<text x="317.79" y="539.60" font-size="7.8" textLength="23.82" lengthAdjust="spacingAndGlyphs" fill="#222" stroke="#222" stroke-width="0.18">(N=12)</text>
<text x="370.01" y="531.20" font-size="7.8" textLength="36.41" lengthAdjust="spacingAndGlyphs" fill="#222" stroke="#222" stroke-width="0.18">NEUTRAL</text>
<text x="374.34" y="539.60" font-size="7.8" textLength="28.11" lengthAdjust="spacingAndGlyphs" fill="#222" stroke="#222" stroke-width="0.18">(N=302)</text>
<text x="416.69" y="531.20" font-size="7.8" textLength="39.01" lengthAdjust="spacingAndGlyphs" fill="#222" stroke="#222" stroke-width="0.18">DELETION</text>
<text x="426.44" y="539.60" font-size="7.8" textLength="19.52" lengthAdjust="spacingAndGlyphs" fill="#222" stroke="#222" stroke-width="0.18">(N=6)</text>
<line x1="290.6" y1="533.0" x2="298.20000000000005" y2="533.0" stroke="#7a64a8" stroke-width="1.1" stroke-dasharray="4.7,1.6,1.3,9"/>
<line x1="361.40000000000003" y1="533.0" x2="368.90000000000003" y2="533.0" stroke="#111" stroke-width="1.5"/>
<line x1="408.8" y1="533.0" x2="415.20000000000005" y2="533.0" stroke="#5a946a" stroke-width="1.3" stroke-dasharray="2.3,1.8"/>
<line x1="330.4" y1="505.5" x2="435.4" y2="505.5" stroke="#6a6a6a" stroke-width="1.0"/>
<line x1="330.4" y1="503.7" x2="330.4" y2="507.3" stroke="#6a6a6a" stroke-width="1.1"/>
<line x1="435.4" y1="503.7" x2="435.4" y2="507.3" stroke="#6a6a6a" stroke-width="1.1"/>
<line x1="388.5" y1="514.5" x2="435.4" y2="514.5" stroke="#6a6a6a" stroke-width="1.0"/>
<line x1="388.5" y1="512.7" x2="388.5" y2="516.3" stroke="#6a6a6a" stroke-width="1.1"/>
<line x1="435.4" y1="512.7" x2="435.4" y2="516.3" stroke="#6a6a6a" stroke-width="1.1"/>
<line x1="330.4" y1="520.0" x2="388.5" y2="520.0" stroke="#6a6a6a" stroke-width="1.0"/>
<line x1="330.4" y1="518.2" x2="330.4" y2="521.8" stroke="#6a6a6a" stroke-width="1.1"/>
<line x1="388.5" y1="518.2" x2="388.5" y2="521.8" stroke="#6a6a6a" stroke-width="1.1"/>
<ellipse cx="382.70" cy="500.60" rx="1.0" ry="1.3" fill="#222"/>
<text x="405.35" y="513.10" font-size="9.2" textLength="13.11" lengthAdjust="spacingAndGlyphs" fill="#222">n.s</text>
<ellipse cx="358.00" cy="515.00" rx="1.0" ry="1.3" fill="#222"/>
<ellipse cx="361.00" cy="515.00" rx="1.0" ry="1.3" fill="#222"/>
</svg>
</body></html>
